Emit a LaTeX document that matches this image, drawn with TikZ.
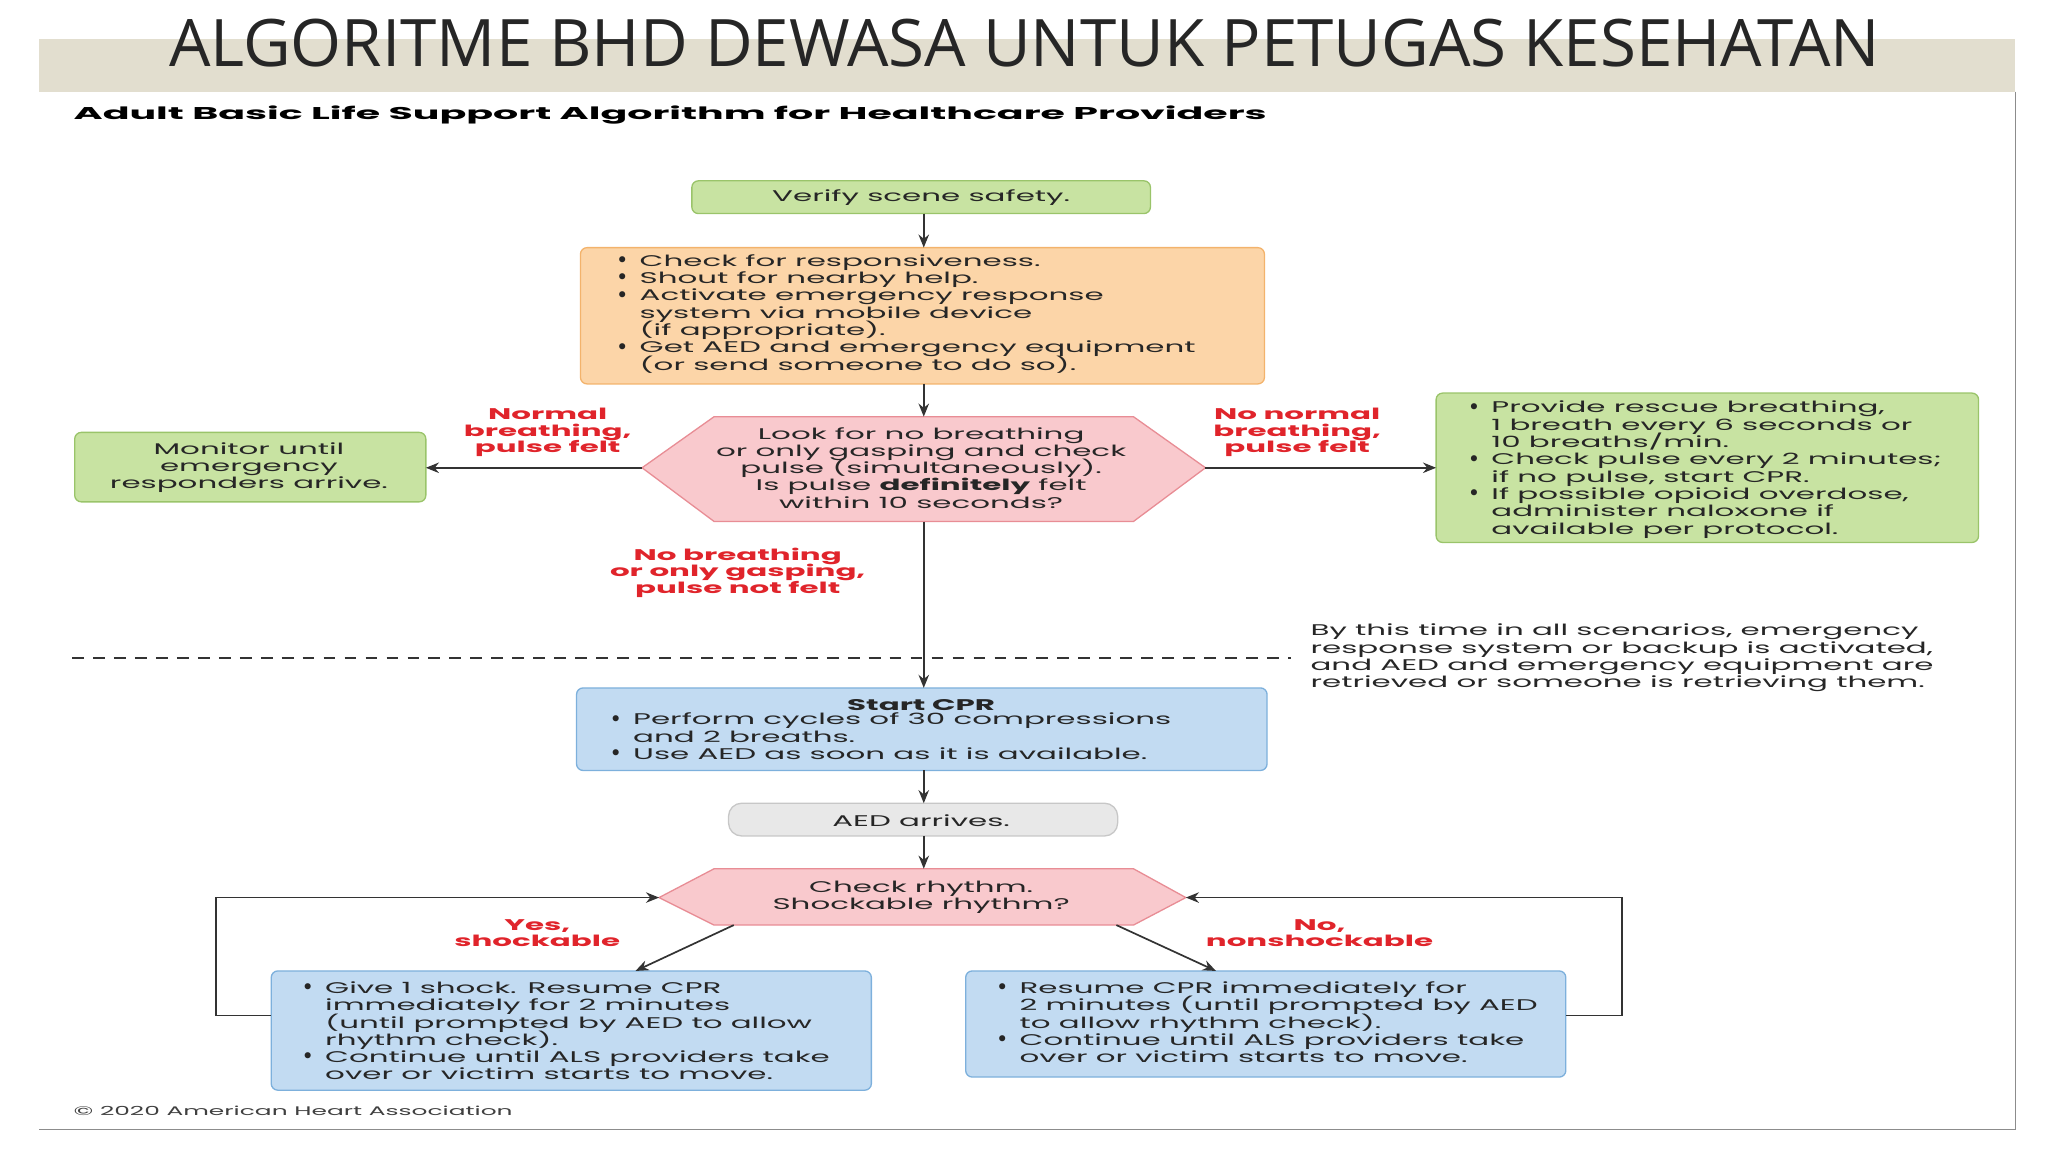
\documentclass[tikz,border=0pt]{standalone}
\usepackage{fontspec}
\setmainfont{Open Sans}
\newfontfamily\dfont[FakeStretch=2.0]{Poppins}
\newfontfamily\hfont[FakeStretch=2.32]{Poppins}
\usetikzlibrary{arrows.meta}
\definecolor{gfill}{HTML}{C8E3A2}\definecolor{gdraw}{HTML}{9AC46A}
\definecolor{ofill}{HTML}{FCD5A8}\definecolor{odraw}{HTML}{F3B36C}
\definecolor{pfill}{HTML}{F9C9CD}\definecolor{pdraw}{HTML}{E88D95}
\definecolor{bfill}{HTML}{C2DBF2}\definecolor{bdraw}{HTML}{7DB0DC}
\definecolor{rtxt}{HTML}{E0242B}\definecolor{band}{HTML}{E2DECF}
\newcommand{\bul}{\makebox[18pt][l]{\fontspec{DejaVu Sans}\fontsize{16}{11}\selectfont\raisebox{-1pt}{•}}}
\newcommand{\ind}{\hspace*{18pt}}
\newcommand{\myfont}{\dfont\fontsize{11.8}{13.2}\selectfont\lineskiplimit=-10pt\relax}
\newcommand{\labfont}{\dfont\bfseries\fontsize{11.8}{12.6}\selectfont\lineskiplimit=-10pt\relax}
\tikzset{
 x=1pt,y=-1pt,
 box/.style={rounded corners=5pt,line width=1pt,inner sep=0pt},
 txt/.style={font=\myfont,align=left,inner sep=0pt,text=black!85},
 ctxt/.style={font=\myfont,align=center,inner sep=0pt,text=black!85},
 lab/.style={font=\labfont,align=center,inner sep=0pt,text=rtxt},
 arr/.style={-{Stealth[length=10pt,width=8pt]},line width=1.3pt,black!80},
}
\begin{document}
\begin{tikzpicture}
\useasboundingbox (0,0) rectangle (1563,880);
\fill[band] (30,30) rectangle (1538,70);
\node[font=\fontsize{50}{52}\selectfont,text=black!85] (title) at (782,33) {ALGORITME BHD DEWASA UNTUK PETUGAS KESEHATAN};
\draw[black!45,line width=1pt] (1538,70) -- (1538,862) -- (30,862);
\node[anchor=west,font=\hfont\bfseries\fontsize{13}{14}\selectfont,inner sep=0pt] (hdr) at (56,88) {Adult Basic Life Support Algorithm for Healthcare Providers};
% boxes
\draw[box,fill=gfill,draw=gdraw] (528,138) rectangle (878,163);
\node[ctxt] (verify) at (703,151) {Verify scene safety.};
\coordinate (vb) at (705,163);
\draw[box,fill=ofill,draw=odraw] (443,189) rectangle (965,293);
\coordinate (ot) at (705,189); \coordinate (ob) at (705,293);
\node[txt,anchor=north west] (orange) at (470,194) {\bul Check for responsiveness.\\\bul Shout for nearby help.\\\bul Activate emergency response\\\ind system via mobile device\\\ind (if appropriate).\\\bul Get AED and emergency equipment\\\ind (or send someone to do so).};
% hexagon 1
\draw[fill=pfill,draw=pdraw,line width=1pt] (490,357) -- (545,318) -- (865,318) -- (920,357) -- (865,398) -- (545,398) -- cycle;
\coordinate (h1t) at (705,318); \coordinate (h1b) at (705,398);
\coordinate (h1l) at (490,357); \coordinate (h1r) at (920,357);
\node[ctxt] (look) at (703,357) {Look for no breathing\\or only gasping and check\\pulse (simultaneously).\\Is pulse \textbf{definitely} felt\\within 10 seconds?};
\draw[box,fill=gfill,draw=gdraw] (57,330) rectangle (325,383);
\node[ctxt] (monitor) at (190,357) {Monitor until\\emergency\\responders arrive.};
\coordinate (mr) at (325,357);
\draw[box,fill=gfill,draw=gdraw] (1096,300) rectangle (1510,414);
\node[txt,anchor=north west] (rescue) at (1120,306) {\bul Provide rescue breathing,\\\ind 1 breath every 6 seconds or\\\ind 10 breaths/min.\\\bul Check pulse every 2 minutes;\\\ind if no pulse, start CPR.\\\bul If possible opioid overdose,\\\ind administer naloxone if\\\ind available per protocol.};
\coordinate (rl) at (1096,357);
\node[lab] (l1) at (418,330) {Normal\\breathing,\\pulse felt};
\node[lab] (l2) at (990,330) {No normal\\breathing,\\pulse felt};
\node[lab] (l3) at (563,437) {No breathing\\or only gasping,\\pulse not felt};
\draw[line width=1.2pt,black!80,dash pattern=on 9pt off 7pt] (55,502) -- (985,502);
\node[txt,anchor=north west] (note) at (1000,476) {By this time in all scenarios, emergency\\response system or backup is activated,\\and AED and emergency equipment are\\retrieved or someone is retrieving them.};
% CPR
\draw[box,fill=bfill,draw=bdraw] (440,525) rectangle (967,588);
\coordinate (ct) at (705,525); \coordinate (cb) at (705,588);
\node[ctxt] (cprt) at (703,538) {\textbf{Start CPR}};
\node[txt,anchor=north west] (cpr) at (465,544) {\bul Perform cycles of 30 compressions\\\ind and 2 breaths.\\\bul Use AED as soon as it is available.};
\draw[box,rounded corners=10pt,fill=black!9,draw=black!22] (556,613) rectangle (853,638);
\node[ctxt] (aed) at (703,626) {AED arrives.};
\coordinate (at) at (705,613); \coordinate (ab) at (705,638);
% hexagon 2
\draw[fill=pfill,draw=pdraw,line width=1pt] (503,685) -- (545,663) -- (865,663) -- (905,685) -- (865,706) -- (545,706) -- cycle;
\coordinate (h2t) at (705,663); \coordinate (h2l) at (503,685); \coordinate (h2r) at (905,685);
\coordinate (h2bl) at (560,706); \coordinate (h2br) at (852,706);
\node[ctxt] (rhythm) at (703,685) {Check rhythm.\\Shockable rhythm?};
\draw[box,fill=bfill,draw=bdraw] (207,741) rectangle (665,832);
\node[txt,anchor=north west] (shock) at (230,749) {\bul Give 1 shock. Resume CPR\\\ind immediately for 2 minutes\\\ind (until prompted by AED to allow\\\ind rhythm check).\\\bul Continue until ALS providers take\\\ind over or victim starts to move.};
\draw[box,fill=bfill,draw=bdraw] (737,741) rectangle (1195,822);
\node[txt,anchor=north west] (noshock) at (760,749) {\bul Resume CPR immediately for\\\ind 2 minutes (until prompted by AED\\\ind to allow rhythm check).\\\bul Continue until ALS providers take\\\ind over or victim starts to move.};
\coordinate (sl) at (207,775); \coordinate (nr) at (1195,775);
\coordinate (st) at (485,741); \coordinate (nt) at (928,741);
\node[lab] (l4) at (410,712) {Yes,\\shockable};
\node[lab] (l5) at (1007,712) {No,\\nonshockable};
\node[anchor=west,font=\dfont\fontsize{9.5}{11}\selectfont,text=black!75,inner sep=0pt] (copy) at (56,848) {\textcopyright\ 2020 American Heart Association};
% arrows
\draw[arr] (vb) -- (ot);
\draw[arr] (ob) -- (h1t);
\draw[arr] (h1l) -- (mr);
\draw[arr] (h1r) -- (rl);
\draw[arr] (h1b) -- (ct);
\draw[arr] (cb) -- (at);
\draw[arr] (ab) -- (h2t);
\draw[arr] (h2bl) -- (st);
\draw[arr] (h2br) -- (nt);
\draw[arr] (sl) -- (165,775) -- (165,685) -- (h2l);
\draw[arr] (nr) -- (1238,775) -- (1238,685) -- (h2r);
\end{tikzpicture}
\end{document}
